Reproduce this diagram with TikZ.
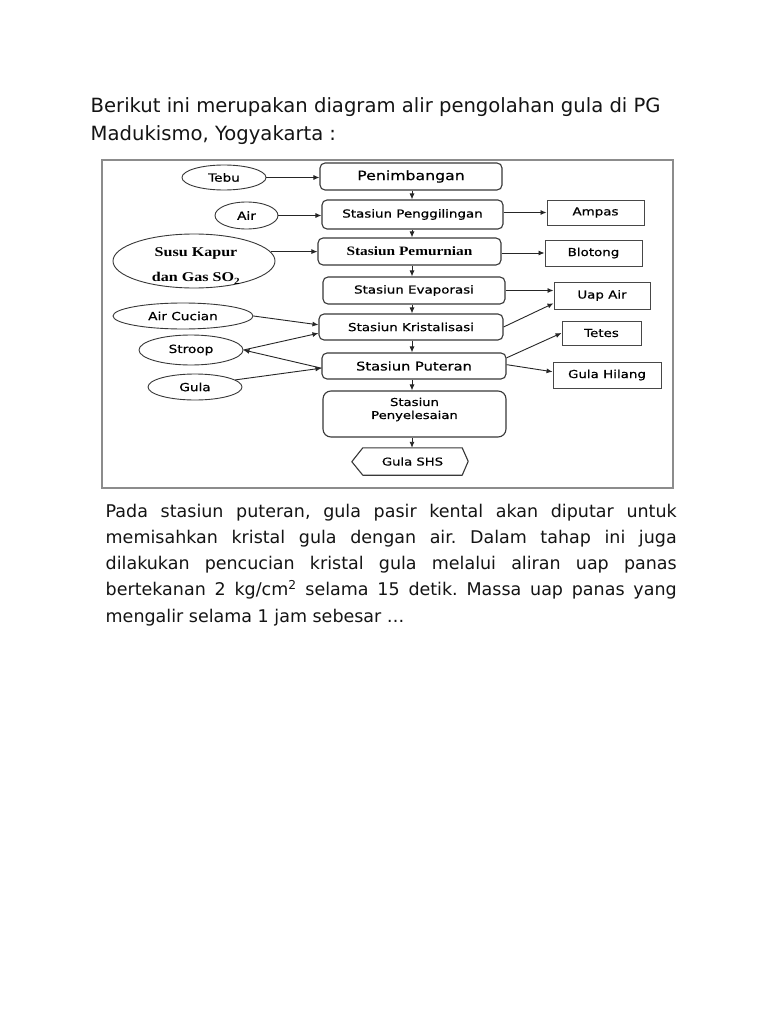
\documentclass[tikz,border=0pt]{standalone}
\usepackage{fontspec}
\setmainfont{DejaVu Sans}
\newfontfamily\dg[FakeStretch=1.22,FakeBold=0.6]{DejaVu Sans}
\newfontfamily\dgs[FakeStretch=1.2]{Liberation Serif}
\usetikzlibrary{arrows.meta,calc,shapes.geometric}
\frenchspacing
\tikzset{
  sz/.style 2 args={minimum width=#1pt, minimum height=#2pt},
  dgf/.style={font=\dg\fontsize{#1}{#1}\selectfont},
  stbox/.style={draw=black!78, line width=1.1pt, rounded corners=5pt, inner sep=0pt, dgf=11},
  outbox/.style={draw=black!72, line width=0.95pt, inner sep=0pt, dgf=11},
  inell/.style={ellipse, draw=black!78, line width=0.9pt, inner sep=0pt, dgf=11.2},
  arr/.style={draw=black!85, line width=0.9pt, -{Latex[length=6pt,width=5pt]}},
  txt/.style={anchor=base west, inner sep=0pt, text=black!92},
}
\begin{document}
\begin{tikzpicture}[x=1pt,y=-1pt]
\fill[white] (0,0) rectangle (768,1024);
\useasboundingbox (0,0) rectangle (768,1024);

% title
\node[txt, font=\fontsize{19.6}{24}\selectfont] (t1) at (90.5,113) {Berikut ini merupakan diagram alir pengolahan gula di PG};
\node[txt, font=\fontsize{19.6}{24}\selectfont] (t2) at (90.5,141) {Madukismo, Yogyakarta :};

% frame
\node[draw=black!45, line width=1.5pt, minimum width=571pt, minimum height=328pt, inner sep=0pt] (frame) at (387.5,324) {};

% main column
\node[stbox, sz={182}{27}, dgf=12.9] (penim) at (411,176.5) {Penimbangan};
\node[stbox, sz={181}{29}] (penggil) at (412.5,214.5) {Stasiun Penggilingan};
\node[stbox, sz={183}{27}, font=\dgs\bfseries\fontsize{12.8}{14}\selectfont] (pemurn) at (409.5,251.5) {Stasiun Pemurnian};
\node[stbox, sz={182}{27}] (evap) at (414,290.5) {Stasiun Evaporasi};
\node[stbox, sz={184}{26}] (krist) at (411,327) {Stasiun Kristalisasi};
\node[stbox, sz={184}{26}, dgf=12] (puter) at (414,366) {Stasiun Puteran};
\node[stbox, rounded corners=8pt, sz={183}{46}] (penyel) at (414.5,414) {};
\node[inner sep=0pt, align=center, font=\dg\fontsize{10.8}{13}\selectfont] (penyeltxt) at (414.5,409.5) {Stasiun\\Penyelesaian};
\node[inner sep=0pt, sz={99}{27}, dgf=10.8] (gulashs) at (412.5,461.5) {Gula SHS};
\draw[draw=black!78, line width=1.1pt, line join=round] (gulashs.north west) -- (gulashs.north east) -- ++(6,13.5) -- (gulashs.south east) -- (gulashs.south west) -- ++(-11,-13.5) -- cycle;

% inputs
\node[inell, sz={84}{25}] (tebu) at (224,177.5) {Tebu};
\node[inell, sz={63}{27}] (air) at (246.5,215.5) {Air};
\node[inell, sz={162}{54}] (susu) at (194,261) {};
\node[inner sep=0pt, align=center, font=\dgs\bfseries\fontsize{13.4}{14}\selectfont] (susutxt) at (196,266) {Susu Kapur\\[11pt]dan Gas SO\textsubscript{2}};
\node[inell, sz={140}{26}] (cucian) at (183,316) {Air Cucian};
\node[inell, sz={104}{30}] (stroop) at (191,350) {Stroop};
\node[inell, sz={94}{26}] (gula) at (195,387) {Gula};

% outputs
\node[outbox, sz={97}{25}] (ampas) at (595.5,212.5) {Ampas};
\node[outbox, sz={97}{26}] (blotong) at (593.5,253) {Blotong};
\node[outbox, sz={96}{27}] (uapair) at (602,295.5) {Uap Air};
\node[outbox, sz={79}{24}] (tetes) at (601.5,333) {Tetes};
\node[outbox, sz={108}{26}] (gulahilang) at (607,375) {Gula Hilang};

% vertical flow
\coordinate (col) at (412,0);
\foreach \a/\b in {penim/penggil, penggil/pemurn, pemurn/evap, evap/krist, krist/puter, puter/penyel, penyel/gulashs}
  \draw[arr] (col |- \a.south) -- (col |- \b.north);

% input arrows
\draw[arr] (tebu.east) -- (tebu.east -| penim.west);
\draw[arr] (air.east) -- (air.east -| penggil.west);
\draw[arr] (susu.7) -- (susu.7 -| pemurn.west);
\draw[arr] (cucian.east) -- ($(krist.north west)!0.42!(krist.south west)$);
\draw[arr] (stroop.east) -- ($(krist.north west)!0.73!(krist.south west)$);
\draw[arr] ($(puter.north west)!0.58!(puter.south west)$) -- (stroop.east);
\draw[arr] (gula.10) -- ($(puter.north west)!0.58!(puter.south west)$);

% output arrows
\draw[arr] (penggil.east |- ampas.west) -- (ampas.west);
\draw[arr] (pemurn.east |- blotong.west) -- (blotong.west);
\draw[arr] (evap.east) -- (evap.east -| uapair.west);
\draw[arr] (krist.east) -- ($(uapair.south west)!0.22!(uapair.north west)$);
\draw[arr] ($(puter.north east)!0.2!(puter.south east)$) -- (tetes.west);
\draw[arr] ($(puter.north east)!0.45!(puter.south east)$) -- ($(gulahilang.north west)!0.38!(gulahilang.south west)$);

% paragraph
\node[txt, font=\fontsize{17.5}{21}\selectfont] (p1) at (105.5,517) {\hbox to 571pt{Pada stasiun puteran, gula pasir kental akan diputar untuk}};
\node[txt, font=\fontsize{17.5}{21}\selectfont] (p2) at (105.5,543.3) {\hbox to 571pt{memisahkan kristal gula dengan air. Dalam tahap ini juga}};
\node[txt, font=\fontsize{17.5}{21}\selectfont] (p3) at (105.5,569.6) {\hbox to 571pt{dilakukan pencucian kristal gula melalui aliran uap panas}};
\node[txt, font=\fontsize{17.5}{21}\selectfont] (p4) at (105.5,595.9) {\hbox to 571pt{bertekanan 2 kg/cm\textsuperscript{2} selama 15 detik. Massa uap panas yang}};
\node[txt, font=\fontsize{17.5}{21}\selectfont] (p5) at (105.5,622.2) {mengalir selama 1 jam sebesar …};
\end{tikzpicture}
\end{document}
